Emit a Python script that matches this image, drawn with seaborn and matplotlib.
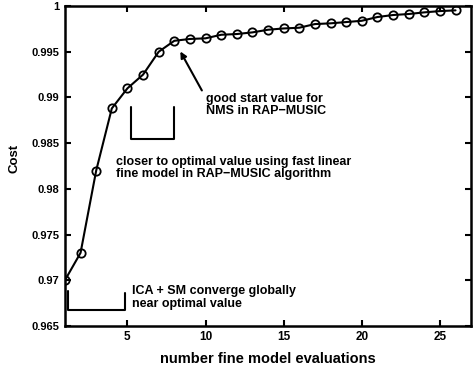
import matplotlib
matplotlib.use("Agg")
import matplotlib.pyplot as plt
import seaborn as sns
import pandas as pd
from matplotlib.ticker import FuncFormatter

evaluations = list(range(1, 27))
cost = [0.9700, 0.9730, 0.9820, 0.9888, 0.9910, 0.9925, 0.9950, 0.9962,
        0.9964, 0.99647, 0.99686, 0.99694, 0.99712, 0.99741, 0.99755, 0.99763,
        0.99803, 0.99811, 0.99825, 0.99839, 0.99880, 0.99902, 0.99913, 0.99931,
        0.99945, 0.99953]
x_ticks = [5, 10, 15, 20, 25]
y_ticks = [0.965, 0.97, 0.975, 0.98, 0.985, 0.99, 0.995, 1.0]

sns.set_style("ticks")
plt.rcParams['font.family'] = ['Liberation Sans', 'DejaVu Sans']
plt.rcParams['font.weight'] = 'bold'
for k in ['text.color', 'axes.labelcolor', 'xtick.color', 'ytick.color']:
    plt.rcParams[k] = 'black'

df = pd.DataFrame({"evals": evaluations, "cost": cost})

fig = plt.figure(figsize=(4.74, 3.79), dpi=100)
ax = fig.add_axes([0.137, 0.140, 0.857, 0.844])

sns.lineplot(data=df, x="evals", y="cost", ax=ax, color="black", linewidth=1.5,
             marker="o", markersize=6, markerfacecolor="none",
             markeredgecolor="black", markeredgewidth=1.3)

ax.set_xlim(1, 27)
ax.set_ylim(0.965, 1.0)
ax.set_xticks(x_ticks)
ax.set_yticks(y_ticks)
ax.yaxis.set_major_formatter(FuncFormatter(lambda v, p: f"{v:g}"))
ax.tick_params(direction="in", length=4, width=1.5, top=True, right=True, pad=4)
ax.tick_params(axis="x", labelsize=8.5)
ax.tick_params(axis="y", labelsize=8)
for lbl in ax.get_xticklabels() + ax.get_yticklabels():
    lbl.set_fontweight('bold')
for s in ax.spines.values():
    s.set_visible(True)
    s.set_linewidth(1.8)
    s.set_color("black")

ax.set_xlabel("number fine model evaluations", fontsize=10.5, fontweight="bold", labelpad=6)
ax.set_ylabel("Cost", fontsize=9.5, fontweight="bold")
ax.yaxis.set_label_coords(-0.11, 0.525)

# annotations
ax.annotate("", xy=(8.3, 0.9953), xytext=(9.85, 0.9905),
            arrowprops=dict(arrowstyle="-|>", color="black", lw=1.5,
                            mutation_scale=9))
ax.text(10.0, 0.9892, "good start value for\nNMS in RAP\u2212MUSIC", fontsize=9,
        fontweight="bold", va="center", ha="left", linespacing=1.05)

ax.plot([5.24, 5.24, 8.01, 8.01], [0.98895, 0.98545, 0.98545, 0.98895],
        color="black", lw=1.5)
ax.text(4.3, 0.9823, "closer to optimal value using fast linear\nfine model in RAP\u2212MUSIC algorithm",
        fontsize=9, fontweight="bold", va="center", ha="left", linespacing=1.05)

ax.plot([1.2, 1.2, 4.83, 4.83], [0.96883, 0.96675, 0.96675, 0.96862],
        color="black", lw=1.5)
ax.text(5.32, 0.9681, "ICA + SM converge globally\nnear optimal value", fontsize=9,
        fontweight="bold", va="center", ha="left", linespacing=1.05)

fig.savefig("out.png", dpi=100)
